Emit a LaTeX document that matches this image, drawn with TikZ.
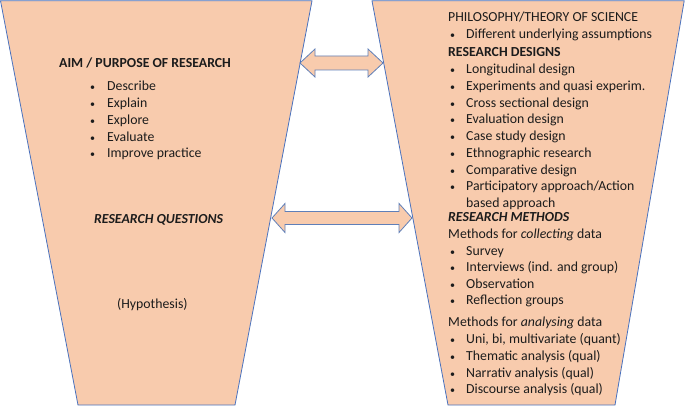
\documentclass[tikz,border=0pt]{standalone}
\usepackage{fontspec}
\setmainfont{Carlito}
\definecolor{peach}{HTML}{F8CBAD}
\definecolor{edgeblue}{HTML}{4A72BE}
\definecolor{arrowedge}{HTML}{5F7FB8}
\definecolor{ink}{HTML}{1C1C1C}
\newcommand\myblockarrow[6]{% xa xb y shaft head len
  \filldraw[arrowshape] (#1,#3) -- (#1+#6,#3-#5) -- (#1+#6,#3-#4) -- (#2-#6,#3-#4) -- (#2-#6,#3-#5) -- (#2,#3)
    -- (#2-#6,#3+#5) -- (#2-#6,#3+#4) -- (#1+#6,#3+#4) -- (#1+#6,#3+#5) -- cycle;}
\newcommand\myfs{\fontsize{13.8}{16}\selectfont}
\newcommand\mybul{{\fontsize{10}{12}\selectfont\textbullet}}
\begin{document}
\begin{tikzpicture}[x=1pt,y=-1pt,
  funnel/.style={fill=peach,draw=edgeblue,line width=0.8pt,line join=miter},
  arrowshape/.style={fill=peach,draw=arrowedge,line width=0.8pt,line join=miter},
  txt/.style={anchor=west,inner sep=0pt,font=\myfs,text=ink,text height=9.5pt,text depth=3pt,yshift=-1.5pt},
  bul/.style={txt}]
\useasboundingbox (0,0) rectangle (685,406);
% left funnel
\coordinate (LTL) at (0.5,0.8);
\coordinate (LTR) at (312,0.8);
\coordinate (LBR) at (235,405);
\coordinate (LBL) at (78,405);
\draw[funnel] (LTL) -- (LTR) -- (LBR) -- (LBL) -- cycle;
% right funnel
\coordinate (RTL) at (372,0.8);
\coordinate (RTR) at (684.2,0.8);
\coordinate (RBR) at (615,405);
\coordinate (RBL) at (448,405);
\draw[funnel] (RTL) -- (RTR) -- (RBR) -- (RBL) -- cycle;
% arrows
\myblockarrow{300}{383}{63}{7}{14}{15}
\myblockarrow{272}{412}{218}{6.5}{14.5}{13}
% left texts
\node[txt,font=\myfs\bfseries] (aim) at (59,63) {AIM / PURPOSE OF RESEARCH};
\foreach \t [count=\i] in {Describe,Explain,Explore,Evaluate,Improve practice}{
  \node[bul] (ab\i) at (90,{86+(\i-1)*16.8}) {\mybul};
  \node[txt] (a\i) at (107,{86+(\i-1)*16.8}) {\t};
}
\node[txt,font=\myfs\bfseries\itshape] (rq) at (94,219) {RESEARCH QUESTIONS};
\node[txt] (hyp) at (117,304) {(Hypothesis)};
% right texts
\node[txt] (phil) at (448,17) {PHILOSOPHY/THEORY OF SCIENCE};
\node[bul] (pb1) at (450,34) {\mybul};
\node[txt] (p1) at (466,34) {Different underlying assumptions};
\node[txt,font=\myfs\bfseries] (rd) at (448,52) {RESEARCH DESIGNS};
\foreach \t [count=\i] in {Longitudinal design,Experiments and quasi experim.,Cross sectional design,Evaluation design,Case study design,Ethnographic research,Comparative design,Participatory approach/Action}{
  \node[bul] (db\i) at (450,{69+(\i-1)*16.75}) {\mybul};
  \node[txt] (d\i) at (466,{69+(\i-1)*16.75}) {\t};
}
\node[txt] (d9) at (466,203) {based approach};
\node[txt,font=\myfs\bfseries\itshape] (rm) at (448,217) {RESEARCH METHODS};
\node[txt] (mc) at (448,233.5) {Methods for \textit{collecting} data};
\foreach \t [count=\i] in {Survey,Interviews (ind. and group),Observation,Reflection groups}{
  \node[bul] (cb\i) at (450,{250.5+(\i-1)*16.5}) {\mybul};
  \node[txt] (c\i) at (466,{250.5+(\i-1)*16.5}) {\t};
}
\node[txt] (ma) at (448,322) {Methods for \textit{analysing} data};
\foreach \t [count=\i] in {{Uni, bi, multivariate (quant)},Thematic analysis (qual),Narrativ analysis (qual),Discourse analysis (qual)}{
  \node[bul] (nb\i) at (450,{338.5+(\i-1)*16.9}) {\mybul};
  \node[txt] (n\i) at (466,{338.5+(\i-1)*16.9}) {\t};
}
\end{tikzpicture}
\end{document}
